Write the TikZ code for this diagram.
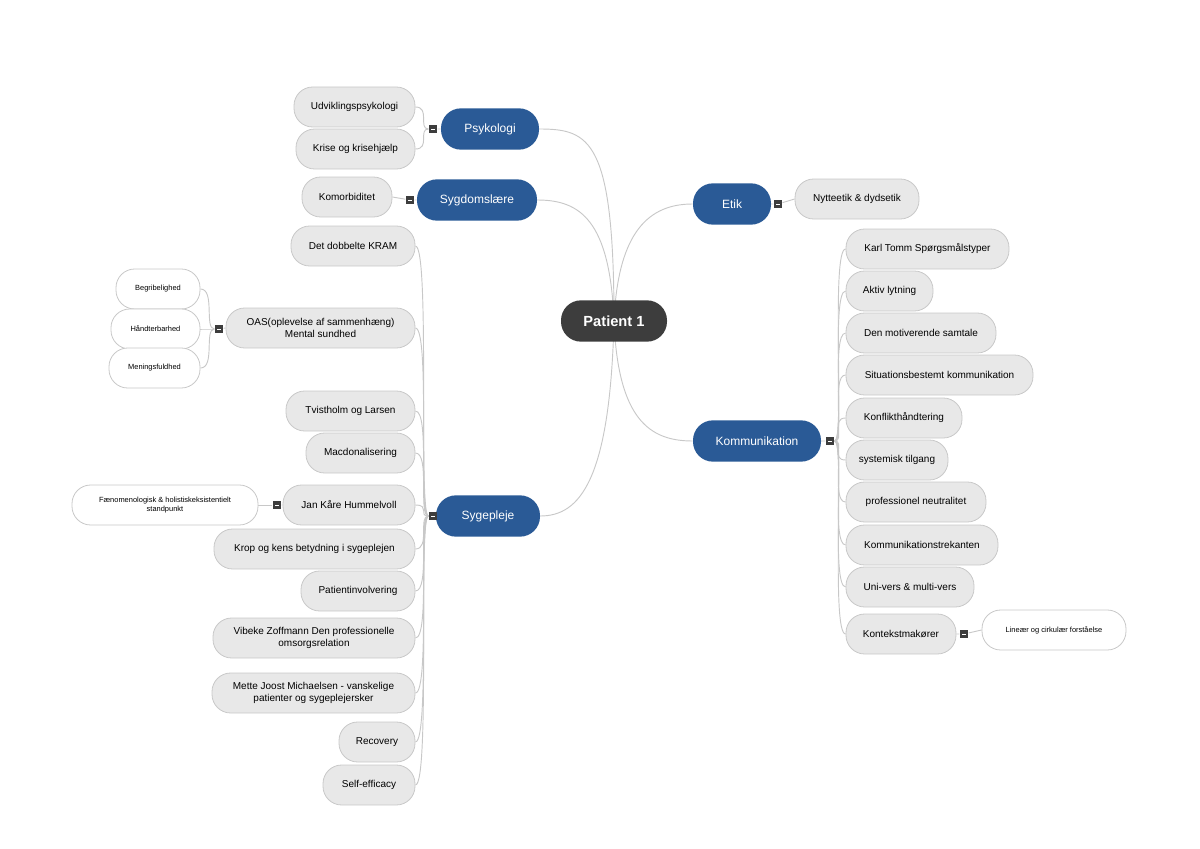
\documentclass[tikz,border=0pt]{standalone}
\usepackage{fontspec}
\setmainfont{Liberation Sans}
\usetikzlibrary{backgrounds}
\definecolor{blu}{HTML}{2A5A96}
\definecolor{dk}{HTML}{3D3D3D}
\definecolor{lg}{HTML}{E8E8E8}
\definecolor{ed}{HTML}{C8C8C8}
\tikzset{
 base/.style={rounded corners=14pt,minimum height=30pt,inner sep=1pt,align=center},
 leaf/.style={base,fill=lg,draw=ed,line width=0.6pt,font=\fontsize{7.5}{9}\selectfont},
 wleaf/.style={base,fill=white,draw=ed,line width=0.6pt,font=\fontsize{5.6}{7}\selectfont},
 topic/.style={base,fill=blu,text=white,minimum height=31pt,rounded corners=15pt,font=\fontsize{9}{11}\selectfont},
 box/.style={fill=dk,minimum size=6.5pt,inner sep=0pt,path picture={\draw[white,line width=0.6pt]([xshift=1.8pt]path picture bounding box.west)--([xshift=-1.8pt]path picture bounding box.east);}},
 link/.style={draw=ed,line width=0.7pt},
}
\newcommand\lf[6]{\node[#1,minimum width={(#4-#3)*0.75pt}] (#2) at ({(#3+#4)/2},#5) {#6};}
\begin{document}
\begin{tikzpicture}[x=0.75pt,y=-0.75pt]
\useasboundingbox (0,0) rectangle (1200,849);
\node[base,fill=dk,text=white,minimum width=79.5pt,minimum height=31pt,rounded corners=15pt,font=\bfseries\fontsize{11}{13}\selectfont] (p) at (614,321) {Patient 1};
\lf{topic}{psy}{441}{539}{129}{Psykologi}
\lf{topic}{syg}{417}{537}{200}{Sygdomslære}
\lf{topic}{etik}{693}{771}{204}{Etik}
\lf{topic}{kom}{693}{821}{441}{Kommunikation}
\lf{topic}{sp}{436}{540}{516}{Sygepleje}
% boxes
\node[box] (bpsy) at (433,129) {};
\node[box] (bsyg) at (410,200) {};
\node[box] (betik) at (778,204) {};
\node[box] (bkom) at (830,441) {};
\node[box] (bsp) at (433,516) {};
\node[box] (boas) at (219,329) {};
\node[box] (bjan) at (277,505) {};
\node[box] (bkon) at (964,634) {};
% leaves
\lf{leaf}{l1}{294}{415}{107}{Udviklingspsykologi}
\lf{leaf}{l2}{296}{415}{149}{Krise og krisehjælp}
\lf{leaf}{l3}{302}{392}{197}{Komorbiditet}
\lf{leaf}{s1}{291}{415}{246}{Det dobbelte KRAM}
\lf{leaf}{s2}{226}{415}{328}{OAS(oplevelse af sammenhæng)\\Mental sundhed}
\lf{wleaf}{o1}{116}{200}{289}{Begribelighed}
\lf{wleaf}{o2}{111}{200}{329}{Håndterbarhed}
\lf{wleaf}{o3}{109}{200}{368}{Meningsfuldhed}
\lf{leaf}{s3}{286}{415}{411}{Tvistholm og Larsen}
\lf{leaf}{s4}{306}{415}{453}{Macdonalisering}
\lf{leaf}{s5}{283}{415}{505}{Jan Kåre Hummelvoll}
\lf{wleaf}{j1}{72}{258}{505}{Fænomenologisk \& holistiskeksistentielt\\standpunkt}
\lf{leaf}{s6}{214}{415}{549}{Krop og kens betydning i sygeplejen}
\lf{leaf}{s7}{301}{415}{591}{Patientinvolvering}
\lf{leaf}{s8}{213}{415}{638}{Vibeke Zoffmann Den professionelle\\omsorgsrelation}
\lf{leaf}{s9}{212}{415}{693}{Mette Joost Michaelsen - vanskelige\\patienter og sygeplejersker}
\lf{leaf}{s10}{339}{415}{742}{Recovery}
\lf{leaf}{s11}{323}{415}{785}{Self-efficacy}
\lf{leaf}{e1}{795}{919}{199}{Nytteetik \& dydsetik}
\lf{leaf}{k1}{846}{1009}{249}{Karl Tomm Spørgsmålstyper}
\lf{leaf}{k2}{846}{933}{291}{Aktiv lytning}
\lf{leaf}{k3}{846}{996}{333}{Den motiverende samtale}
\lf{leaf}{k4}{846}{1033}{375}{Situationsbestemt kommunikation}
\lf{leaf}{k5}{846}{962}{418}{Konflikthåndtering}
\lf{leaf}{k6}{846}{948}{460}{systemisk tilgang}
\lf{leaf}{k7}{846}{986}{502}{professionel neutralitet}
\lf{leaf}{k8}{846}{998}{545}{Kommunikationstrekanten}
\lf{leaf}{k9}{846}{974}{587}{Uni-vers \& multi-vers}
\lf{leaf}{k10}{846}{956}{634}{Kontekstmakører}
\lf{wleaf}{kk}{982}{1126}{630}{Lineær og cirkulær forståelse}
\begin{scope}[on background layer]
\draw[link] (p.center) .. controls (614,140) and (590,129) .. (psy.east);
\draw[link] (p.center) .. controls (610,220) and (580,200) .. (syg.east);
\draw[link] (p.center) .. controls (618,230) and (650,204) .. (etik.west);
\draw[link] (p.center) .. controls (618,420) and (650,441) .. (kom.west);
\draw[link] (p.center) .. controls (610,480) and (580,516) .. (sp.east);
\draw[link] (psy.west)--(bpsy) (syg.west)--(bsyg) (etik.east)--(betik) (kom.east)--(bkom) (sp.west)--(bsp) (s2.west)--(boas) (s5.west)--(bjan) (k10.east)--(bkon);
\foreach \n in {l1,l2} \draw[link] (bpsy) .. controls +(-15,0) and +(15,0) .. (\n.east);
\draw[link] (bsyg)--(l3.east);
\draw[link] (betik)--(e1.west);
\draw[link] (bkon)--(kk.west);
\foreach \n in {s1,s2,s3,s4,s5,s6,s7,s8,s9,s10,s11} \draw[link] (bsp) .. controls +(-15,0) and +(15,0) .. (\n.east);
\foreach \n in {o1,o2,o3} \draw[link] (boas) .. controls +(-15,0) and +(15,0) .. (\n.east);
\draw[link] (bjan)--(j1.east);
\foreach \n in {k1,k2,k3,k4,k5,k6,k7,k8,k9,k10} \draw[link] (bkom) .. controls +(15,0) and +(-15,0) .. (\n.west);
\end{scope}
\end{tikzpicture}
\end{document}
